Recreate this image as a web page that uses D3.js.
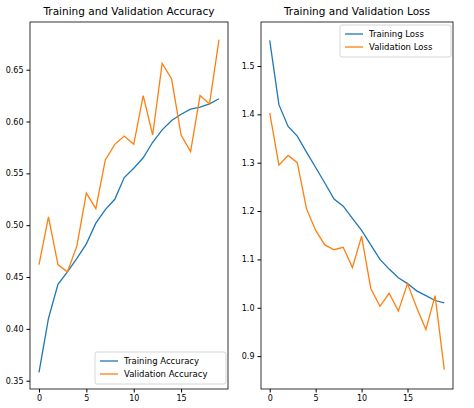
<!DOCTYPE html>
<html><head><meta charset="utf-8">
<script src="https://cdn.jsdelivr.net/npm/d3@7"></script>
<style>body{margin:0;background:#fff}text{font-family:"DejaVu Sans",sans-serif}</style>
</head><body>
<svg id="c" width="474" height="408"></svg>
<script>
// epochs and series
const epochs = d3.range(20);
const trainAcc = [0.358,0.41,0.443,0.455,0.468,0.482,0.502,0.515,0.525,0.546,0.555,0.565,0.58,0.592,0.601,0.607,0.612,0.614,0.617,0.622];
const valAcc = [0.462,0.508,0.462,0.455,0.48,0.531,0.516,0.563,0.578,0.586,0.578,0.625,0.587,0.656,0.641,0.587,0.571,0.625,0.617,0.679];
const trainLoss = [1.553,1.42,1.375,1.355,1.322,1.29,1.258,1.225,1.21,1.185,1.16,1.13,1.1,1.08,1.062,1.05,1.035,1.025,1.015,1.01];
const valLoss = [1.403,1.295,1.315,1.3,1.205,1.16,1.13,1.12,1.125,1.083,1.148,1.04,1.003,1.03,0.993,1.05,1.0,0.955,1.025,0.872];
const xTicks = [0,5,10,15];
const accTicks = [0.35,0.40,0.45,0.50,0.55,0.60,0.65];
const lossTicks = [0.9,1.0,1.1,1.2,1.3,1.4,1.5];

const blue = "#1f77b4", orange = "#ff7f0e";
const svg = d3.select("#c");

function panel(o) {
  const g = svg.append("g");
  const x = d3.scaleLinear().domain([-0.95, 19.95]).range([o.x0, o.x1]);
  const y = d3.scaleLinear().domain(o.yDom).range([o.y1, o.y0]);
  g.append("g").attr("transform", `translate(0,${o.y1})`)
    .call(d3.axisBottom(x).tickValues(xTicks).tickSize(3.5).tickFormat(d3.format("d")));
  g.append("g").attr("transform", `translate(${o.x0},0)`)
    .call(d3.axisLeft(y).tickValues(o.yTicks).tickSize(3.5).tickFormat(o.fmt));
  g.selectAll(".domain").remove();
  g.selectAll(".tick text").attr("font-size", 8).attr("fill", "#000");
  g.append("rect").attr("x", o.x0).attr("y", o.y0).attr("width", o.x1 - o.x0).attr("height", o.y1 - o.y0)
    .attr("fill", "none").attr("stroke", "#000").attr("stroke-width", 0.8);
  const line = d3.line().x((d, i) => x(epochs[i])).y(d => y(d));
  [[o.a, blue], [o.b, orange]].forEach(([s, c]) =>
    g.append("path").datum(s).attr("d", line).attr("fill", "none").attr("stroke", c).attr("stroke-width", 1.3));
  g.append("text").attr("x", (o.x0 + o.x1) / 2).attr("y", 15).attr("text-anchor", "middle")
    .attr("font-size", 10.5).text(o.title);
  const L = o.leg;
  g.append("rect").attr("x", L.x).attr("y", L.y).attr("width", L.w).attr("height", 32).attr("rx", 2)
    .attr("fill", "#fff").attr("stroke", "#ccc").attr("stroke-width", 0.8);
  L.labels.forEach((t, i) => {
    const yy = L.y + 9 + i * 13;
    g.append("line").attr("x1", L.x + 5).attr("x2", L.x + 23).attr("y1", yy).attr("y2", yy)
      .attr("stroke", i ? orange : blue).attr("stroke-width", 1.3);
    g.append("text").attr("x", L.x + 29).attr("y", yy + 3).attr("font-size", 8.5).text(t);
  });
}

panel({x0: 30, x1: 228, y0: 22, y1: 389, yDom: [0.342, 0.696], yTicks: accTicks, fmt: d3.format(".2f"),
  a: trainAcc, b: valAcc, title: "Training and Validation Accuracy",
  leg: {x: 95, y: 352, w: 131, labels: ["Training Accuracy", "Validation Accuracy"]}});
panel({x0: 261, x1: 453, y0: 22, y1: 389, yDom: [0.832, 1.591], yTicks: lossTicks, fmt: d3.format(".1f"),
  a: trainLoss, b: valLoss, title: "Training and Validation Loss",
  leg: {x: 340, y: 25, w: 111, labels: ["Training Loss", "Validation Loss"]}});
</script>
</body></html>
